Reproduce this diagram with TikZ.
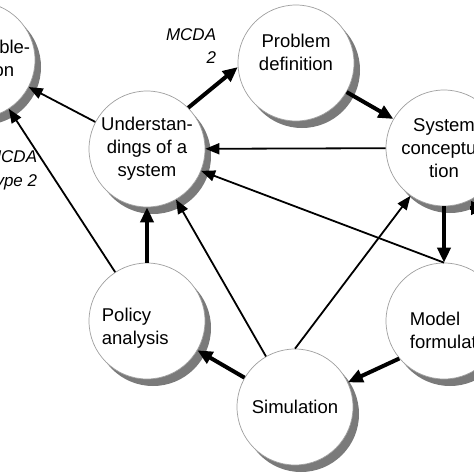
\documentclass[tikz,border=0pt]{standalone}
\usepackage{fontspec}
\setmainfont{Liberation Sans}
\usetikzlibrary{arrows.meta, shadows}

\begin{document}
\begin{tikzpicture}[x=1pt, y=-1pt, ->, >={Triangle[length=14pt, width=11pt]}, line width=1.8pt,
	font=\fontsize{18.5pt}{23pt}\selectfont,
	bub/.style={circle, draw=gray!75, line width=0.7pt, fill=white, minimum size=116pt, inner sep=0pt, align=center,
		drop shadow={shadow xshift=6pt, shadow yshift=-7pt, fill=black!52, opacity=1}},
	txt/.style={align=left, inner sep=0pt},
	mcda/.style={align=right, inner sep=0pt, font=\fontsize{17pt}{23.5pt}\selectfont\itshape},
	heavy/.style={line width=4pt, -{Triangle[length=15pt, width=13pt]}}]
	\useasboundingbox (0,0) rectangle (474,474);
	\clip (0,0) rectangle (474,474);

	\node[bub] (tl) at (-23,60) {};
	\node[txt, align=right, anchor=east] (tl-t) at (31,58) {ble-\\on\hspace*{16pt}};
	\node[bub] (pd) at (296,63) {};
	\node[txt, align=center] (pd-t) at (296,52) {Problem\\definition};
	\node[bub] (u) at (147,149) {Understan-\\dings of a\\system};
	\node[bub] (sc) at (444,148) {System\\conceptua\hspace*{28pt}\\tion};
	\node[bub] (pa) at (147,321) {};
	\node[txt, anchor=west] (pa-t) at (101,328.5) {Policy\\analysis};
	\node[bub] (mf) at (444,321) {};
	\node[txt, anchor=west] (mf-t) at (409,330) {Model\\formulat};
	\node[bub] (sim) at (295,407) {Simulation};

	\node[mcda, anchor=east] (m2) at (217,46) {MCDA\\2};
	\node[mcda, anchor=east] (m1) at (38,170.5) {MCDA\\ype 2};

	\path 	(u) edge (tl)
			(pa) edge (tl)
			(sc) edge (u)
			(mf.north) edge (u.-22)
			(sim) edge (u)
			(sim.north) edge (sc.235)
	;
	\path[heavy] 	(u.45) edge (pd.184)
					(pd) edge (sc)
					(sc) edge (mf)
					(mf.220) edge (sim.25)
					(sim) edge (pa)
					(pa) edge (u)
	;
	\draw[heavy] (sc) ++(26,60) -- ++(16,0);
\end{tikzpicture}
\end{document}
